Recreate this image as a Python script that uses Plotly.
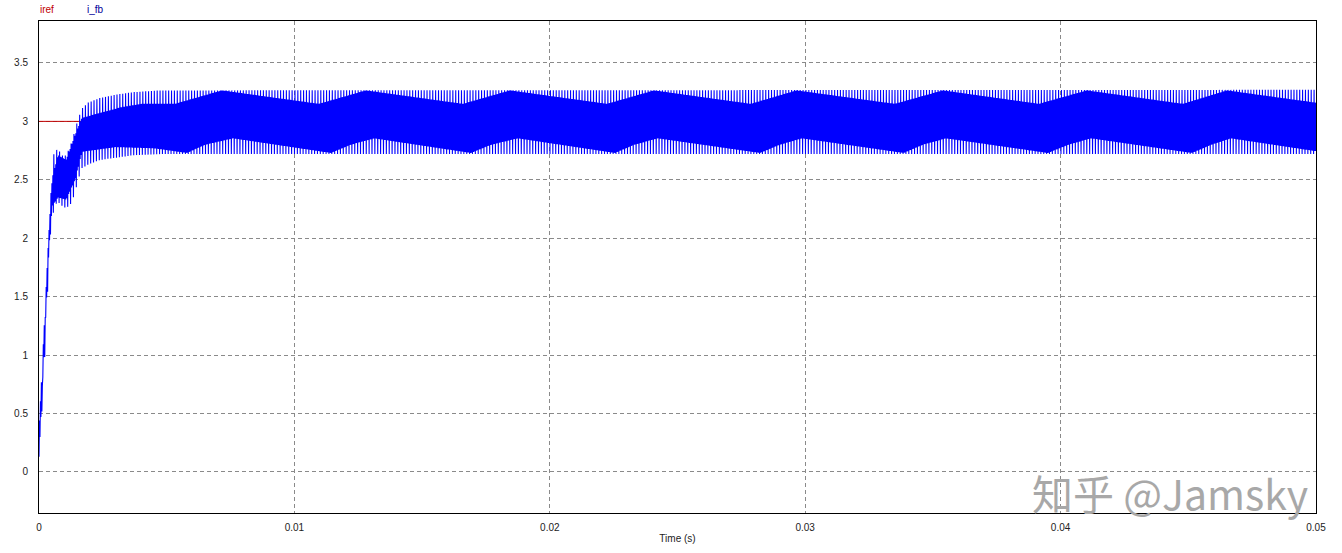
import numpy as np
import plotly.graph_objects as go

# ---------------- data ----------------
# reference current (iref)
t_ref = [0.0, 0.05]
iref = [3.0, 3.0]

# switching period of the feedback ripple (one stripe in the picture), s
PERIOD = 0.0001124

# outer envelope of i_fb (tips of the ripple)
t_env = [0.0, 0.00006, 0.00014, 0.00019, 0.00024, 0.00028, 0.00034, 0.00040, 0.00046,
         0.00052, 0.00060, 0.00075, 0.00094, 0.00106, 0.00121, 0.00133, 0.00141, 0.00153,
         0.00168, 0.00192, 0.00239, 0.00305, 0.00368, 0.00474, 0.05]
env_hi = [0.36, 0.62, 0.75, 1.00, 1.30, 1.55, 1.85, 2.10, 2.35,
          2.62, 2.75, 2.76, 2.70, 2.71, 2.78, 2.86, 2.93, 3.02,
          3.11, 3.16, 3.20, 3.23, 3.25, 3.265, 3.27]
env_lo = [0.13, 0.36, 0.60, 0.72, 1.10, 1.38, 1.55, 1.95, 2.05,
          2.15, 2.28, 2.31, 2.27, 2.26, 2.28, 2.34, 2.39, 2.50,
          2.60, 2.63, 2.67, 2.69, 2.71, 2.72, 2.72]

# inner (dense) part of the ripple: lower boundary
t_core_lo = [0.0, 0.00040, 0.00052, 0.00075, 0.00106, 0.00141, 0.00168, 0.0030, 0.0045,
             0.00579, 0.00650, 0.00760, 0.01143, 0.01220, 0.01312, 0.01691, 0.01770, 0.01875,
             0.02255, 0.02330, 0.02423, 0.02823, 0.02900, 0.02987, 0.03386, 0.03460, 0.03551,
             0.03950, 0.04030, 0.04119, 0.04514, 0.04590, 0.04667, 0.05]
core_lo = [0.13, 1.95, 2.28, 2.35, 2.33, 2.50, 2.74, 2.78, 2.77,
           2.73, 2.80, 2.855, 2.73, 2.80, 2.855, 2.73, 2.80, 2.855,
           2.73, 2.80, 2.855, 2.73, 2.80, 2.855, 2.73, 2.80, 2.855,
           2.73, 2.80, 2.855, 2.73, 2.80, 2.855, 2.745]

# inner (dense) part of the ripple: upper boundary
t_core_hi = [0.0, 0.00040, 0.00052, 0.00075, 0.00106, 0.00141, 0.00168, 0.0032, 0.0040,
             0.00532, 0.00716, 0.01096, 0.01280, 0.01660, 0.01844, 0.02224, 0.02408,
             0.02787, 0.02966, 0.03351, 0.03539, 0.03915, 0.04103, 0.04479, 0.04651, 0.05]
core_hi = [0.36, 2.10, 2.52, 2.71, 2.67, 2.88, 3.03, 3.12, 3.15,
           3.15, 3.265, 3.15, 3.265, 3.15, 3.265, 3.15, 3.265,
           3.15, 3.265, 3.15, 3.265, 3.15, 3.265, 3.15, 3.265, 3.16]

x_ticks = [0.0, 0.01, 0.02, 0.03, 0.04, 0.05]
x_ticktext = ["0", "0.01", "0.02", "0.03", "0.04", "0.05"]
y_ticks = [0, 0.5, 1, 1.5, 2, 2.5, 3, 3.5]
y_ticktext = ["0", "0.5", "1", "1.5", "2", "2.5", "3", "3.5"]

# ---------------- build the switching waveform ----------------
# each switching period: tip low, tip high, then two passes through the dense core
step = PERIOD / 6.0
tv = np.arange(0.0, 0.05 + step / 2, step)
phase = np.arange(len(tv)) % 6
lo_o = np.interp(tv, t_env, env_lo)
hi_o = np.interp(tv, t_env, env_hi)
lo_c = np.interp(tv, t_core_lo, core_lo)
hi_c = np.interp(tv, t_core_hi, core_hi)
i_fb = np.select([phase == 0, phase == 1, phase == 2, phase == 3, phase == 4, phase == 5],
                 [lo_o, hi_o, lo_c, hi_c, lo_c, hi_c])

FONT = "Liberation Sans, Arial, sans-serif"

fig = go.Figure()
fig.add_trace(go.Scatter(x=t_ref, y=iref, mode="lines", name="iref",
                         line=dict(color="#C00000", width=1)))
fig.add_trace(go.Scatter(x=tv, y=i_fb, mode="lines", name="i_fb",
                         line=dict(color="#0000FF", width=1.1, simplify=False)))

axis_common = dict(
    showgrid=True, gridcolor="#8a8a8a", gridwidth=1, griddash="4px,3px",
    showline=True, mirror=True, linecolor="#000000", linewidth=1,
    zeroline=False, ticks="outside", tickcolor="rgba(0,0,0,0)",
    tickfont=dict(family=FONT, size=10, color="#222222"),
)

fig.update_layout(
    width=1342, height=553,
    margin=dict(l=39, r=26, t=21, b=40),
    paper_bgcolor="white", plot_bgcolor="white",
    showlegend=False,
    xaxis=dict(range=[0, 0.05], tickvals=x_ticks, ticktext=x_ticktext, ticklen=5,
               title=dict(text="Time (s)", font=dict(family=FONT, size=10, color="#222222"),
                          standoff=2),
               **axis_common),
    yaxis=dict(range=[-0.351, 3.859], tickvals=y_ticks, ticktext=y_ticktext, ticklen=8,
               **axis_common),
    annotations=[
        dict(text="iref", xref="paper", yref="paper", x=-0.001, y=1.0224,
             xanchor="left", yanchor="middle", showarrow=False,
             font=dict(family=FONT, size=10, color="#C00000")),
        dict(text="i_fb", xref="paper", yref="paper", x=0.036, y=1.0224,
             xanchor="left", yanchor="middle", showarrow=False,
             font=dict(family=FONT, size=10, color="#000099")),
        dict(text="知乎 @Jamsky", xref="paper", yref="paper", x=0.9953, y=0.0427,
             xanchor="right", yanchor="middle", showarrow=False,
             font=dict(family="Noto Sans CJK SC", size=41, color="#A8A8A8")),
    ],
)

fig.write_html("out.html", config={"displayModeBar": False},
               post_script="document.body.style.margin='0';document.body.style.overflow='hidden';")
